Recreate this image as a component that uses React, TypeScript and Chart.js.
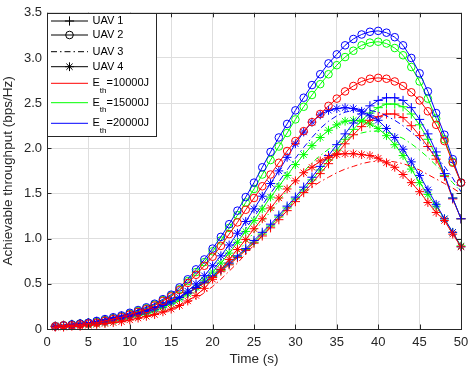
import React, { useEffect, useRef } from 'react';
import { Chart, registerables } from 'chart.js';

Chart.register(...registerables);

const times = [1,2,3,4,5,6,7,8,9,10,11,12,13,14,15,16,17,18,19,20,21,22,23,24,25,26,27,28,29,30,31,32,33,34,35,36,37,38,39,40,41,42,43,44,45,46,47,48,49,50];

const xTicks = [0, 5, 10, 15, 20, 25, 30, 35, 40, 45, 50];
const yTicks = [0, 0.5, 1, 1.5, 2, 2.5, 3, 3.5];

// UAV 1 (+)
const uav1E10000 = [0.03,0.04,0.05,0.06,0.07,0.08,0.10,0.12,0.14,0.16,0.18,0.21,0.24,0.27,0.31,0.35,0.40,0.45,0.51,0.57,0.64,0.71,0.79,0.87,0.95,1.03,1.12,1.21,1.31,1.41,1.51,1.61,1.72,1.83,1.94,2.05,2.15,2.24,2.31,2.35,2.38,2.38,2.34,2.25,2.14,2.02,1.88,1.69,1.44,1.22];
const uav1E15000 = [0.03,0.04,0.05,0.06,0.07,0.08,0.10,0.12,0.14,0.16,0.18,0.21,0.24,0.27,0.31,0.35,0.40,0.45,0.51,0.58,0.65,0.72,0.80,0.88,0.96,1.05,1.14,1.24,1.34,1.44,1.54,1.65,1.76,1.87,1.98,2.10,2.21,2.31,2.39,2.45,2.49,2.49,2.46,2.38,2.26,2.10,1.92,1.70,1.45,1.22];
const uav1E20000 = [0.03,0.04,0.05,0.06,0.07,0.08,0.10,0.12,0.14,0.16,0.18,0.21,0.24,0.27,0.31,0.35,0.40,0.46,0.52,0.59,0.66,0.73,0.81,0.89,0.98,1.07,1.16,1.26,1.36,1.46,1.57,1.68,1.80,1.92,2.04,2.16,2.28,2.38,2.47,2.53,2.56,2.56,2.53,2.45,2.32,2.16,1.96,1.72,1.45,1.22];

// UAV 2 (o)
const uav2E10000 = [0.03,0.04,0.04,0.05,0.06,0.07,0.09,0.11,0.13,0.16,0.19,0.22,0.26,0.31,0.36,0.43,0.51,0.60,0.70,0.80,0.92,1.05,1.18,1.32,1.45,1.58,1.71,1.84,1.97,2.08,2.19,2.29,2.38,2.47,2.55,2.63,2.69,2.74,2.77,2.78,2.77,2.74,2.69,2.62,2.53,2.41,2.26,2.08,1.84,1.62];
const uav2E15000 = [0.03,0.04,0.05,0.06,0.07,0.08,0.10,0.12,0.14,0.17,0.20,0.23,0.27,0.32,0.37,0.44,0.53,0.63,0.74,0.86,0.98,1.12,1.26,1.40,1.55,1.71,1.87,2.02,2.17,2.32,2.46,2.59,2.71,2.82,2.92,3.01,3.08,3.14,3.17,3.18,3.16,3.11,3.03,2.90,2.74,2.55,2.33,2.10,1.85,1.62];
const uav2E20000 = [0.03,0.04,0.05,0.06,0.07,0.09,0.11,0.13,0.15,0.18,0.21,0.24,0.28,0.33,0.38,0.46,0.55,0.66,0.77,0.89,1.02,1.16,1.31,1.46,1.62,1.79,1.96,2.12,2.27,2.42,2.56,2.70,2.82,2.94,3.04,3.14,3.21,3.26,3.29,3.30,3.28,3.23,3.14,3.00,2.83,2.63,2.39,2.15,1.88,1.62];

// UAV 3 (-.)
const uav3E10000 = [0.02,0.03,0.03,0.04,0.04,0.05,0.06,0.07,0.08,0.10,0.11,0.13,0.16,0.18,0.21,0.25,0.29,0.34,0.40,0.47,0.55,0.64,0.73,0.83,0.93,1.03,1.13,1.23,1.33,1.42,1.50,1.57,1.63,1.68,1.73,1.77,1.80,1.83,1.85,1.86,1.86,1.85,1.83,1.80,1.76,1.71,1.66,1.61,1.56,1.50];
const uav3E15000 = [0.03,0.03,0.04,0.05,0.05,0.06,0.07,0.09,0.10,0.12,0.14,0.17,0.20,0.23,0.27,0.31,0.36,0.42,0.49,0.56,0.65,0.75,0.85,0.96,1.07,1.19,1.30,1.42,1.53,1.64,1.74,1.84,1.92,1.99,2.05,2.10,2.14,2.17,2.19,2.19,2.18,2.15,2.11,2.05,1.98,1.90,1.81,1.72,1.62,1.52];
const uav3E20000 = [0.03,0.03,0.04,0.05,0.06,0.07,0.08,0.10,0.12,0.14,0.16,0.19,0.22,0.26,0.30,0.35,0.41,0.48,0.56,0.65,0.76,0.87,0.99,1.11,1.24,1.37,1.50,1.63,1.76,1.89,2.01,2.12,2.22,2.30,2.36,2.40,2.42,2.43,2.42,2.40,2.36,2.31,2.25,2.18,2.10,2.01,1.91,1.80,1.67,1.52];

// UAV 4 (*)
const uav4E10000 = [0.02,0.02,0.03,0.03,0.04,0.05,0.06,0.07,0.08,0.10,0.12,0.14,0.16,0.19,0.22,0.26,0.31,0.37,0.45,0.55,0.66,0.77,0.88,0.99,1.11,1.22,1.34,1.45,1.55,1.64,1.73,1.79,1.86,1.90,1.93,1.94,1.94,1.93,1.92,1.89,1.84,1.79,1.71,1.62,1.52,1.40,1.29,1.20,1.05,0.91];
const uav4E15000 = [0.03,0.03,0.04,0.05,0.05,0.06,0.07,0.09,0.11,0.13,0.15,0.17,0.20,0.24,0.28,0.33,0.39,0.46,0.54,0.63,0.73,0.84,0.96,1.08,1.20,1.33,1.46,1.58,1.70,1.82,1.93,2.03,2.12,2.20,2.26,2.30,2.31,2.30,2.27,2.22,2.14,2.04,1.92,1.77,1.62,1.49,1.36,1.22,1.07,0.92];
const uav4E20000 = [0.03,0.03,0.04,0.05,0.06,0.07,0.08,0.10,0.12,0.14,0.16,0.19,0.22,0.26,0.30,0.35,0.42,0.50,0.59,0.70,0.81,0.93,1.06,1.19,1.33,1.47,1.61,1.75,1.90,2.05,2.18,2.29,2.37,2.42,2.44,2.45,2.44,2.41,2.36,2.31,2.22,2.12,1.99,1.85,1.70,1.54,1.38,1.22,1.07,0.91];

const legendUav = ['UAV 1', 'UAV 2', 'UAV 3', 'UAV 4'];
const legendEnergy = ['10000J', '15000J', '20000J'];

const RED = '#ff0000';
const GREEN = '#00ff00';
const BLUE = '#0000ff';
const AXIS = '#262626';
const FONT = '"Liberation Sans", Arial, Helvetica, sans-serif';
const DASH_DOT = [6, 3, 1.5, 3];

type Style = 'plus' | 'circle' | 'dashdot' | 'star';

const R_CIRCLE = 3.8;
const R_PLUS = 4.6;
const R_STAR = 4.4;

function makeDs(label: string, values: number[], color: string, style: Style) {
  return {
    label,
    data: times.map((t, i) => ({ x: t, y: values[i] })),
    borderColor: color,
    backgroundColor: color,
    borderWidth: 1,
    borderDash: style === 'dashdot' ? DASH_DOT : [],
    pointStyle: style === 'plus' ? 'cross' : style === 'circle' ? 'circle' : style === 'star' ? 'star' : 'circle',
    pointRadius: style === 'dashdot' ? 0 : style === 'circle' ? R_CIRCLE : style === 'plus' ? R_PLUS : R_STAR,
    pointBorderColor: color,
    pointBackgroundColor: 'rgba(0,0,0,0)',
    pointBorderWidth: 1,
    tension: 0,
    clip: false,
  };
}

function drawMarker(ctx: CanvasRenderingContext2D, style: Style, x: number, y: number) {
  ctx.beginPath();
  if (style === 'circle') {
    ctx.arc(x, y, R_CIRCLE, 0, Math.PI * 2);
  } else if (style === 'plus' || style === 'star') {
    const r = style === 'plus' ? R_PLUS : R_STAR;
    ctx.moveTo(x - r, y); ctx.lineTo(x + r, y);
    ctx.moveTo(x, y - r); ctx.lineTo(x, y + r);
    if (style === 'star') {
      const d = r * Math.SQRT1_2;
      ctx.moveTo(x - d, y - d); ctx.lineTo(x + d, y + d);
      ctx.moveTo(x - d, y + d); ctx.lineTo(x + d, y - d);
    }
  }
  ctx.stroke();
}

const framePlugin = {
  id: 'matlabFrame',
  afterDraw(chart: any) {
    const { ctx, chartArea } = chart;
    const { left, right, top, bottom } = chartArea;
    const xs = chart.scales.x;
    const ys = chart.scales.y;
    ctx.save();
    ctx.strokeStyle = AXIS;
    ctx.lineWidth = 1;
    ctx.setLineDash([]);
    ctx.beginPath();
    const tl = 4.5;
    xTicks.forEach((v) => {
      const px = Math.round(xs.getPixelForValue(v)) + 0.5;
      ctx.moveTo(px, bottom); ctx.lineTo(px, bottom - tl);
      ctx.moveTo(px, top); ctx.lineTo(px, top + tl);
    });
    yTicks.forEach((v) => {
      const py = Math.round(ys.getPixelForValue(v)) + 0.5;
      ctx.moveTo(left, py); ctx.lineTo(left + tl, py);
      ctx.moveTo(right, py); ctx.lineTo(right - tl, py);
    });
    ctx.stroke();
    ctx.strokeRect(Math.round(left) + 0.5, Math.round(top) + 0.5, Math.round(right - left), Math.round(bottom - top));

    // legend
    const bx = Math.round(left) + 0.5;
    const by = Math.round(top) + 0.5;
    const bw = 109;
    const bh = 123;
    ctx.fillStyle = '#ffffff';
    ctx.fillRect(bx, by, bw, bh);
    ctx.strokeStyle = AXIS;
    ctx.strokeRect(bx, by, bw, bh);

    const rows = [21, 35, 51.7, 66.7, 83.3, 102.7, 123.3];
    const lx0 = 51, lx1 = 88, mx = 69.5, tx = 92.5;
    const uavStyles: Style[] = ['plus', 'circle', 'dashdot', 'star'];
    ctx.textBaseline = 'middle';
    ctx.textAlign = 'left';
    legendUav.forEach((name, i) => {
      const y = rows[i];
      ctx.strokeStyle = '#000000';
      ctx.lineWidth = 1;
      ctx.setLineDash(uavStyles[i] === 'dashdot' ? DASH_DOT : []);
      ctx.beginPath();
      ctx.moveTo(lx0, y); ctx.lineTo(lx1, y);
      ctx.stroke();
      ctx.setLineDash([]);
      if (uavStyles[i] !== 'dashdot') drawMarker(ctx, uavStyles[i], mx, y);
      ctx.fillStyle = '#000000';
      ctx.font = `11px ${FONT}`;
      ctx.fillText(name, tx, y);
    });
    const eColors = [RED, GREEN, BLUE];
    legendEnergy.forEach((val, i) => {
      const y = rows[4 + i];
      ctx.strokeStyle = eColors[i];
      ctx.lineWidth = 1;
      ctx.setLineDash([]);
      ctx.beginPath();
      ctx.moveTo(lx0, y); ctx.lineTo(lx1, y);
      ctx.stroke();
      ctx.fillStyle = '#000000';
      ctx.font = `11px ${FONT}`;
      ctx.fillText('E', tx, y);
      const wE = ctx.measureText('E').width;
      ctx.font = `8px ${FONT}`;
      ctx.fillText('th', tx + wE, y + 7);
      const wth = ctx.measureText('th').width;
      ctx.font = `11px ${FONT}`;
      ctx.fillText('=' + val, tx + wE + wth, y);
    });
    ctx.restore();
  },
};

export default function App() {
  const ref = useRef<HTMLCanvasElement | null>(null);
  useEffect(() => {
    if (!ref.current) return;
    const datasets = [
      makeDs('UAV 2 10000J', uav2E10000, RED, 'circle'),
      makeDs('UAV 4 10000J', uav4E10000, RED, 'star'),
      makeDs('UAV 1 20000J', uav1E20000, BLUE, 'plus'),
      makeDs('UAV 2 20000J', uav2E20000, BLUE, 'circle'),
      makeDs('UAV 4 20000J', uav4E20000, BLUE, 'star'),
      makeDs('UAV 3 20000J', uav3E20000, BLUE, 'dashdot'),
      makeDs('UAV 1 10000J', uav1E10000, RED, 'plus'),
      makeDs('UAV 3 10000J', uav3E10000, RED, 'dashdot'),
      makeDs('UAV 1 15000J', uav1E15000, GREEN, 'plus'),
      makeDs('UAV 2 15000J', uav2E15000, GREEN, 'circle'),
      makeDs('UAV 4 15000J', uav4E15000, GREEN, 'star'),
      makeDs('UAV 3 15000J', uav3E15000, GREEN, 'dashdot'),
    ];
    const chart = new Chart(ref.current, {
      type: 'line',
      data: { datasets: datasets as any },
      options: {
        animation: false,
        responsive: false,
        devicePixelRatio: 1,
        events: [],
        layout: { padding: { top: 11, right: 13, left: 0, bottom: 0 } },
        plugins: { legend: { display: false }, tooltip: { enabled: false } },
        scales: {
          x: {
            type: 'linear',
            min: 0,
            max: 50,
            afterFit: (s: any) => { s.height = 43; },
            ticks: { stepSize: 5, padding: 5.5, color: AXIS, font: { family: FONT, size: 13 }, maxRotation: 0, autoSkip: false },
            grid: { color: '#dedede', lineWidth: 1, drawTicks: false },
            border: { display: false },
            title: { display: true, text: 'Time (s)', color: AXIS, font: { family: FONT, size: 13.5 }, padding: { top: 0, bottom: 4.5 } },
          },
          y: {
            type: 'linear',
            min: 0,
            max: 3.5,
            afterFit: (s: any) => { s.width = 47; },
            ticks: { stepSize: 0.5, padding: 5, color: AXIS, font: { family: FONT, size: 13 }, autoSkip: false },
            grid: { color: '#dedede', lineWidth: 1, drawTicks: false },
            border: { display: false },
            title: { display: true, text: 'Achievable throughput (bps/Hz)', color: AXIS, font: { family: FONT, size: 13.5 }, padding: { top: 0, bottom: 0 } },
          },
        },
      } as any,
      plugins: [framePlugin],
    });
    return () => chart.destroy();
  }, []);
  return (
    <div style={{ position: 'fixed', left: 0, top: 0, width: 474, height: 372, background: '#ffffff' }}>
      <canvas ref={ref} width={474} height={372} style={{ display: 'block' }} />
    </div>
  );
}
